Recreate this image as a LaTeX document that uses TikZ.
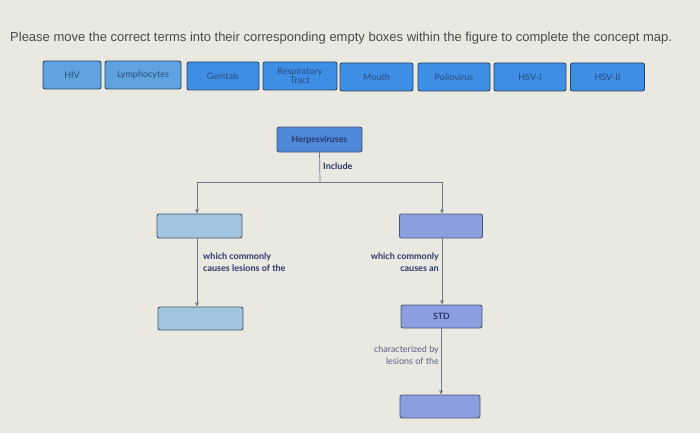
\documentclass[tikz,border=0pt]{standalone}
\usepackage{fontspec}
\setmainfont{Liberation Sans}
\newfontfamily\mapfont{Lato}
\usetikzlibrary{arrows.meta}
\definecolor{bg}{HTML}{E9E8E1}
\definecolor{titlec}{HTML}{4A4A4C}
\definecolor{btnpale}{HTML}{5EA2E0}
\definecolor{btnblue}{HTML}{3D8EE4}
\definecolor{btnedge}{HTML}{2E4660}
\definecolor{btntext}{HTML}{2B4C7A}
\definecolor{herpc}{HTML}{4D88DA}
\definecolor{leftc}{HTML}{A2C4DE}
\definecolor{rightc}{HTML}{8B9FE0}
\definecolor{boxedge}{HTML}{4A5670}
\definecolor{linec}{HTML}{6E7888}
\definecolor{labc}{HTML}{2C3768}
\tikzset{
  btn/.style={draw=btnedge, line width=0.9pt, rounded corners=2pt, fill=btnblue,
    text=btntext, font=\mapfont\fontsize{9}{9}\selectfont, align=center,
    inner sep=0pt},
  mapbox/.style={draw=boxedge, line width=0.9pt, rounded corners=2pt,
    text=labc, font=\mapfont\bfseries\fontsize{8.8}{9}\selectfont, inner sep=0pt},
  conn/.style={draw=linec, line width=0.7pt},
  arr/.style={conn, -{Triangle[length=4pt,width=3.5pt]}},
  lab/.style={text=labc, font=\mapfont\bfseries\fontsize{9}{12}\selectfont, inner sep=0pt},
}
\begin{document}
\begin{tikzpicture}[x=1pt,y=-1pt]
\fill[bg] (0,0) rectangle (700,433);
\useasboundingbox (0,0) rectangle (700,433);
\node[anchor=west, text=titlec, font=\fontsize{13}{14}\selectfont, inner sep=0pt] (title) at (10,38)
  {Please move the correct terms into their corresponding empty boxes within the figure to complete the concept map.};
% buttons
\node[btn, fill=btnpale, minimum width=58pt, minimum height=28pt] (hiv) at (72,75) {HIV};
\node[btn, fill=btnpale, minimum width=76pt, minimum height=28pt] (lym) at (143,75) {Lymphocytes};
\node[btn, minimum width=72pt, minimum height=28pt] (gen) at (223,76) {Genitals};
\node[btn, minimum width=74pt, minimum height=28pt, font=\mapfont\fontsize{9}{8.5}\selectfont] (resp) at (300,76) {Respiratory\\Tract};
\node[btn, minimum width=73pt, minimum height=28pt] (mouth) at (376.5,77) {Mouth};
\node[btn, minimum width=72pt, minimum height=28pt] (polio) at (454,77) {Poliovirus};
\node[btn, minimum width=72pt, minimum height=28pt] (hsv1) at (530,77) {HSV-I};
\node[btn, minimum width=74pt, minimum height=28pt] (hsv2) at (607.5,77) {HSV-II};
% concept map
\node[mapbox, fill=herpc, minimum width=85pt, minimum height=25pt] (herp) at (319.5,139.5) {Herpesviruses};
\node[mapbox, fill=leftc, minimum width=85pt, minimum height=24pt] (left) at (199.5,226) {};
\node[mapbox, fill=rightc, minimum width=83pt, minimum height=24pt] (right) at (441,226) {};
\node[mapbox, fill=leftc, minimum width=85pt, minimum height=23pt] (left2) at (200.5,318.5) {};
\node[mapbox, fill=rightc, minimum width=81pt, minimum height=23pt] (std) at (441.5,316.5) {STD};
\node[mapbox, fill=rightc, minimum width=80pt, minimum height=23pt] (bottom) at (440,406.5) {};
\coordinate (split) at (320,182);
\coordinate (lc) at (197,182);
\coordinate (rc) at (442,182);
\draw[conn] (herp.south) -- (split);
\draw[conn] (lc) -- (rc);
\draw[arr] (lc) -- (lc |- left.north);
\draw[arr] (rc) -- (rc |- right.north);
\draw[arr] (left.south -| lc) -- (lc |- left2.north);
\draw[arr] (right.south -| rc) -- (rc |- std.north);
\draw[arr] (std.south -| 441,0) -- (441,0 |- bottom.north);
\node[lab, anchor=west] (inc) at (323,166) {Include};
\node[lab, anchor=north west, align=left] (l1) at (203,253) {which commonly\\causes lesions of the};
\node[lab, anchor=north east, align=right] (r1) at (439,253) {which commonly\\causes an};
\node[lab, anchor=north east, align=right, font=\mapfont\fontsize{9}{12}\selectfont, text=labc!80] (r2) at (439,346) {characterized by\\lesions of the};
\end{tikzpicture}
\end{document}
